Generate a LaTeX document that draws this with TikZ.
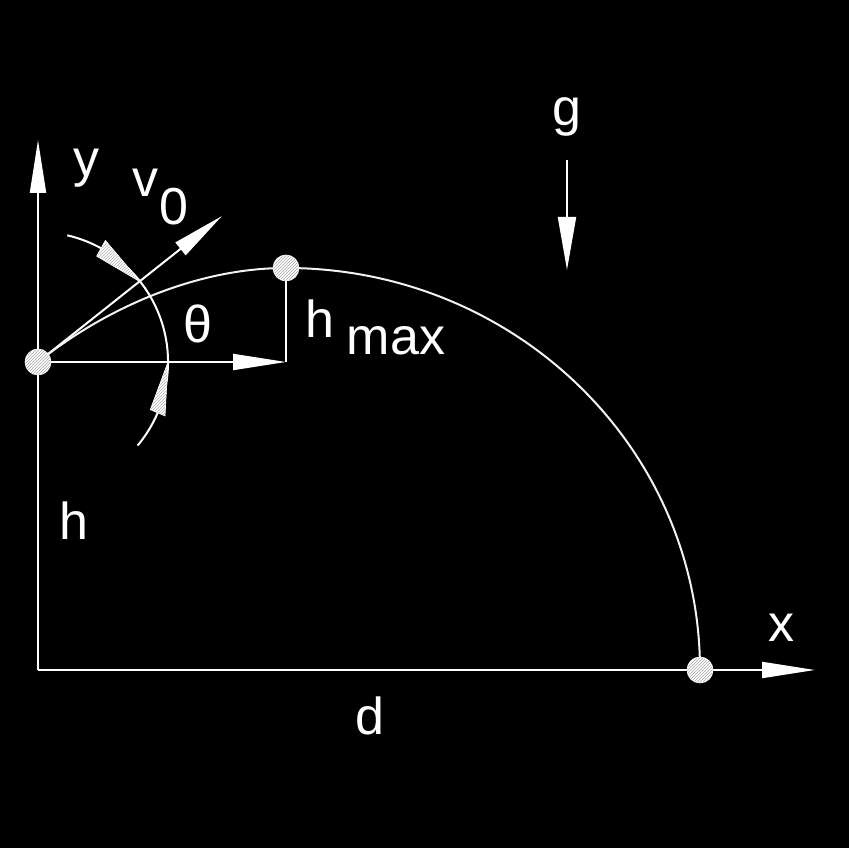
\documentclass[tikz,border=0pt]{standalone}
\usepackage{fontspec}
\setmainfont{Liberation Sans}
\usetikzlibrary{arrows.meta, patterns, calc}

\begin{document}
\begin{tikzpicture}[x=1pt, y=1pt, font=\fontsize{52}{60}\selectfont]
        % Setup the styles
        \tikzset{line style/.style={draw=white, line width=2pt},
                 arrow style/.style={line style, -{Triangle[length=53pt, width=16pt]}},
                 ball style/.style={circle, minimum size=26pt, inner sep=0pt,
                                    draw=white, line width=0.6pt,
                                    preaction={fill=white},
                                    pattern=north east lines, pattern color=gray!70},
                 head style/.style={draw=white, line width=0.6pt,
                                    preaction={fill=white},
                                    pattern=north east lines, pattern color=gray!60},
                 label style/.style={text=white, anchor=base, inner sep=0pt}}

        % Background and page size
        \fill[black] (0,0) rectangle (849,848);
        \useasboundingbox (0,0) rectangle (849,848);

        % Points
        \coordinate (origin) at (38,178);
        \coordinate (ytip)   at (38,708);
        \coordinate (xtip)   at (815,178);
        \coordinate (launch) at (38,486);
        \coordinate (peak)   at (286,580);
        \coordinate (land)   at (700,178);
        \coordinate (corner) at (286,486);
        \coordinate (vtip)   at (222,632);
        \coordinate (gtop)   at (567,688);
        \coordinate (gtip)   at (567,578);

        % Axes and arrows
        \draw[arrow style] (origin) -- (ytip);
        \draw[arrow style] (origin) -- (xtip);
        \draw[arrow style] (launch) -- (vtip);
        \draw[arrow style] (launch) -- (corner);
        \draw[line style] (corner) -- (peak);
        \draw[arrow style, -{Triangle[length=53pt, width=18pt]}] (gtop) -- (gtip);

        % Trajectory
        \draw[draw=white!90!gray, line width=2pt]
            (launch) .. controls (110,543) and (200,580) .. (peak)
                     .. controls (515,580) and (700,400) .. (land);

        % Angle arc with its two heads
        \draw[line style] (launch) ++(77:130) arc[start angle=77, end angle=-40, radius=130];
        \path[head style] ($(launch)+(61:121)$) -- ($(launch)+(38:130)$)
            -- ($(launch)+(61:139)$) -- cycle;
        \path[head style] ($(launch)+(-23:122)$) -- ($(launch)+(0:130)$)
            -- ($(launch)+(-23:138)$) -- cycle;

        % Balls
        \node[ball style] (ball1) at (launch) {};
        \node[ball style] (ball2) at (peak) {};
        \node[ball style] (ball3) at (land) {};

        % Labels
        \node[label style] (ylab)    at (86,671)    {y};
        \node[label style] (vlab)    at (145.5,651) {v};
        \node[label style] (vsub)    at (173.5,623) {0};
        \node[label style] (thlab)   at (197.5,505) {θ};
        \node[label style] (hmlab)   at (320,510)   {h};
        \node[label style] (maxlab)  at (396,493)   {max};
        \node[label style] (glab)    at (567,722)   {g};
        \node[label style] (hlab)    at (74,308)    {h};
        \node[label style] (dlab)    at (369.5,113) {d};
        \node[label style] (xlab)    at (781.5,206) {x};
\end{tikzpicture}
\end{document}
